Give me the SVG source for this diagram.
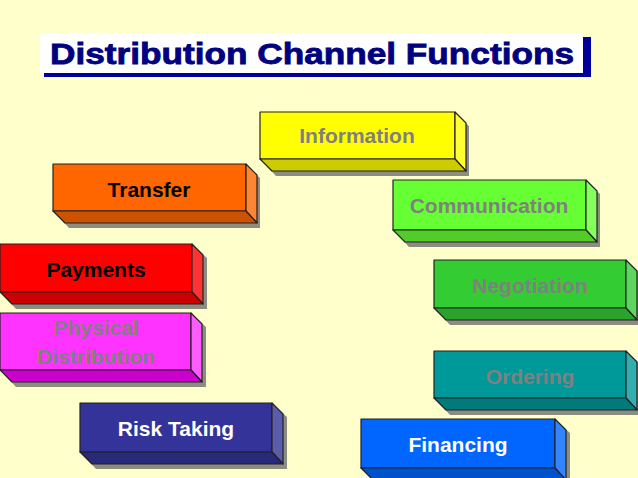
<svg xmlns="http://www.w3.org/2000/svg" width="638" height="478" viewBox="0 0 638 478">
<style>
.f,.s,.b{stroke:#222;stroke-width:1.2;stroke-linejoin:round}
.sh{fill:#8c8c80}
.s{fill-opacity:1}
text{font-family:"Liberation Sans",Arial,sans-serif;font-weight:bold;font-size:21px;text-anchor:middle}
.g{fill:#808080}.k{fill:#000}.w{fill:#fff}
</style>
<rect width="638" height="478" fill="#FFFFCC"/>
<g id="title">
<rect x="44" y="37" width="547" height="40" fill="#000099"/>
<rect x="40" y="33" width="543" height="40" fill="#fff"/>
<text x="312" y="64" style="font-size:29px;fill:#000080;stroke:#000080;stroke-width:0.8" textLength="524" lengthAdjust="spacingAndGlyphs">Distribution Channel Functions</text>
</g>
<g id="information">
<polygon class="sh" points="264,163 276,176 469,176 469,126 459,116 459,163"/>
<rect class="f" x="260" y="112" width="195" height="47" fill="#FFFF00"/>
<polygon class="s" points="455,112 466,123 466,171 455,159" fill="#FFFF33"/>
<polygon class="b" points="260,159 455,159 466,171 272,171" fill="#CCCC00"/>
<text class="g" x="357" y="143">Information</text>
</g>
<g id="transfer">
<polygon class="sh" points="57,215 69,228 260,228 260,178 250,168 250,215"/>
<rect class="f" x="53" y="164" width="193" height="47" fill="#FF6600"/>
<polygon class="s" points="246,164 257,175 257,223 246,211" fill="#FF8533"/>
<polygon class="b" points="53,211 246,211 257,223 65,223" fill="#CC5200"/>
<text class="k" x="149" y="197">Transfer</text>
</g>
<g id="communication">
<polygon class="sh" points="397,234 409,247 600,247 600,194 590,184 590,234"/>
<rect class="f" x="393" y="180" width="193" height="50" fill="#66FF33"/>
<polygon class="s" points="586,180 597,191 597,242 586,230" fill="#85FF5C"/>
<polygon class="b" points="393,230 586,230 597,242 405,242" fill="#52CC29"/>
<text class="g" x="489" y="213">Communication</text>
</g>
<g id="payments">
<polygon class="sh" points="4,296 16,309 207,309 207,258 196,248 196,296"/>
<rect class="f" x="0" y="244" width="192" height="48" fill="#FF0000"/>
<polygon class="s" points="192,244 203,255 203,304 192,292" fill="#FF3333"/>
<polygon class="b" points="0,292 192,292 203,304 12,304" fill="#CC0000"/>
<text class="k" x="96" y="277">Payments</text>
</g>
<g id="physical-distribution">
<polygon class="sh" points="4,374 16,387 206,387 206,327 195,317 195,374"/>
<rect class="f" x="0" y="313" width="191" height="57" fill="#FF33FF"/>
<polygon class="s" points="191,313 202,324 202,382 191,370" fill="#FF5CFF"/>
<polygon class="b" points="0,370 191,370 202,382 12,382" fill="#CC00CC"/>
<text class="g" x="96" y="335">Physical</text>
<text class="g" x="96" y="364">Distribution</text>
</g>
<g id="negotiation">
<polygon class="sh" points="438,312 450,325 641,325 641,274 630,264 630,312"/>
<rect class="f" x="434" y="260" width="192" height="48" fill="#33CC33"/>
<polygon class="s" points="626,260 637,271 637,320 626,308" fill="#5CD65C"/>
<polygon class="b" points="434,308 626,308 637,320 446,320" fill="#29A329"/>
<text class="g" x="530" y="293">Negotiation</text>
</g>
<g id="ordering">
<polygon class="sh" points="438,402 450,415 641,415 641,365 630,355 630,402"/>
<rect class="f" x="434" y="351" width="192" height="47" fill="#009999"/>
<polygon class="s" points="626,351 637,362 637,410 626,398" fill="#33ADAD"/>
<polygon class="b" points="434,398 626,398 637,410 446,410" fill="#007A7A"/>
<text class="g" x="530" y="384">Ordering</text>
</g>
<g id="risk-taking">
<polygon class="sh" points="84,456 96,469 287,469 287,417 276,407 276,456"/>
<rect class="f" x="80" y="403" width="192" height="49" fill="#333399"/>
<polygon class="s" points="272,403 283,414 283,464 272,452" fill="#5C5CAD"/>
<polygon class="b" points="80,452 272,452 283,464 92,464" fill="#29297A"/>
<text class="w" x="176" y="436">Risk Taking</text>
</g>
<g id="financing">
<polygon class="sh" points="365,472 377,485 570,485 570,433 559,423 559,472"/>
<rect class="f" x="361" y="419" width="194" height="49" fill="#0066FF"/>
<polygon class="s" points="555,419 566,430 566,480 555,468" fill="#3385FF"/>
<polygon class="b" points="361,468 555,468 566,480 373,480" fill="#0052CC"/>
<text class="w" x="458" y="452">Financing</text>
</g>
<g id="connectors"/>
</svg>
